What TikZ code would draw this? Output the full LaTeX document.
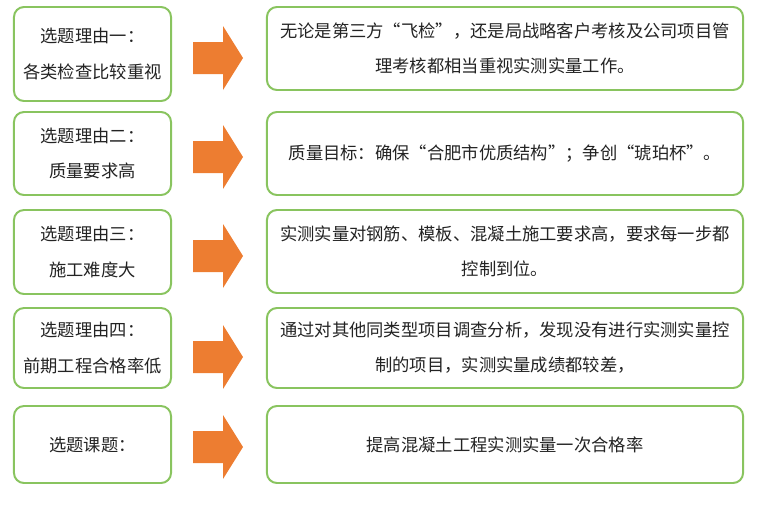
\documentclass[tikz,border=0pt]{standalone}
\usepackage{fontspec}
\usepackage{xcolor}
\usepackage{tikz}
\newfontfamily\cjk{Noto Sans CJK SC}

\definecolor{boxgreen}{RGB}{137,196,95}
\definecolor{arroworange}{RGB}{237,125,49}
\definecolor{txt}{RGB}{35,35,35}

\tikzset{
  box/.style={draw=boxgreen, line width=1.4pt, rounded corners=0.25cm, fill=white,
    align=center, text=txt, inner sep=0pt,
    font=\cjk\fontsize{12.3}{25}\selectfont},
  leftbox/.style={box, minimum width=3.925cm},
  rightbox/.style={box, minimum width=11.9cm},
  fat/.style={fill=arroworange}
}

\begin{document}
\begin{tikzpicture}[x=0.025cm, y=-0.025cm]
  \useasboundingbox (0,0) rectangle (760,507);
  \foreach \i/\c/\h/\rc/\rh/\ya/\lt/\rt in {
      1/54/94/48.5/83/58/{选题理由一：\\各类检查比较重视}/{无论是第三方“飞检”，还是局战略客户考核及公司项目管\\理考核都相当重视实测实量工作。},
      2/153.5/83/153.5/83/157/{选题理由二：\\质量要求高}/{质量目标：确保“合肥市优质结构”；争创“琥珀杯”。},
      3/252/84/251.5/83/256/{选题理由三：\\施工难度大}/{实测实量对钢筋、模板、混凝土施工要求高，要求每一步都\\控制到位。},
      4/348/80/348/80/357/{选题理由四：\\前期工程合格率低}/{通过对其他同类型项目调查分析，发现没有进行实测实量控\\制的项目，实测实量成绩都较差，},
      5/444.5/77/444.5/77/447/{选题课题：}/{提高混凝土工程实测实量一次合格率}} {
    \node[leftbox, minimum height=\h*0.025cm] (l\i) at (92.5,\c) {\lt};
    \node[rightbox, minimum height=\rh*0.025cm] (r\i) at (505,\rc) {\rt};
    \coordinate (a\i) at (193,\ya);
    \fill[fat] (a\i) ++(0,-16) -- ++(30,0) -- ++(0,-16) -- ++(20,32)
      -- ++(-20,32) -- ++(0,-16) -- ++(-30,0) -- cycle;
  }
\end{tikzpicture}
\end{document}
